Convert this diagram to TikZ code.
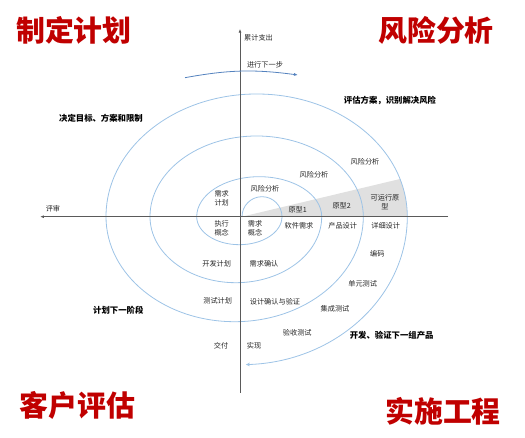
\documentclass[tikz,border=0pt]{standalone}
\usepackage{fontspec}
\newfontfamily\cjk{Noto Sans CJK SC}
\usetikzlibrary{arrows.meta}

\definecolor{spiralblue}{RGB}{157,195,230}
\definecolor{stepblue}{RGB}{84,130,190}
\definecolor{axisgray}{RGB}{90,90,90}
\definecolor{titlered}{RGB}{192,0,0}
\definecolor{wedgegray}{RGB}{224,224,224}

\tikzset{
  lbl/.style={font=\cjk\fontsize{7.2}{8.8}\selectfont, text=black!85, inner sep=0pt, align=center},
  phase/.style={font=\cjk\bfseries\fontsize{8.4}{10}\selectfont, inner sep=0pt},
  bigtitle/.style={font=\cjk\bfseries\fontsize{29}{32}\selectfont, text=titlered, inner sep=0pt},
  axisline/.style={draw=axisgray, line width=0.8bp},
  spiral/.style={draw=spiralblue, line width=0.8bp},
}

\begin{document}
\begin{tikzpicture}[x=1bp, y=1bp]
    \useasboundingbox (-240, -221.3) rectangle (285, 216.7);

    % 外圈上半椭圆: 圆心 (16.65, 0), 半轴 150.65 和 122.7
    \pgfmathsetmacro{\ra}{150.65}
    \pgfmathsetmacro{\rb}{122.7}
    \pgfmathsetmacro{\t}{17.9}% 阴影扇形的角度

    \coordinate (O) at (2, 0);
    \coordinate (W) at ({16.65 + \ra * cos(\t)}, {\rb * sin(\t)});

    % 原型区域
    \fill[wedgegray] (O) -- (W) arc[start angle=\t, end angle=0, x radius=\ra, y radius=\rb] -- cycle;

    % 螺旋线
    \draw[spiral, -{Stealth[length=4bp, width=3.5bp]}] (O)
        arc[start angle=180, end angle=0,    x radius=20,     y radius=20]
        arc[start angle=0,   end angle=-180, x radius=42.65,  y radius=28]
        arc[start angle=180, end angle=0,    x radius=62.5,   y radius=40]
        arc[start angle=0,   end angle=-180, x radius=85.85,  y radius=66]
        arc[start angle=180, end angle=0,    x radius=106.65, y radius=80.7]
        arc[start angle=0,   end angle=-180, x radius=128.65, y radius=105]
        arc[start angle=180, end angle=0,    x radius=\ra,    y radius=\rb]
        arc[start angle=0,   end angle=-88,  x radius=167.3,  y radius=148];

    % 坐标轴
    \coordinate (xr) at (208, 0);
    \coordinate (xl) at (-200, 0);
    \coordinate (yb) at (0, -176.3);
    \coordinate (yt) at (0, 188);
    \draw[axisline, -{Latex[length=4bp, width=3bp]}] (xr) -- (xl);
    \draw[axisline, -{Latex[length=4bp, width=3bp]}] (yb) -- (yt);
    \node[lbl, anchor=west] (cost) at (4, 179) {累计支出};
    \node[lbl] (review) at (-187, 7.7) {评审};

    % 进行下一步
    \coordinate (s1) at (-55, 139);
    \coordinate (s2) at (58, 141.7);
    \draw[stepblue, line width=0.8bp, -{Latex[length=4bp, width=3bp]}] (s1) to[bend left=9] (s2);
    \node[lbl] (next) at (25, 151.7) {进行下一步};

    % 各象限任务
    \node[lbl] (rp)   at (-18.3, 18.4) {需求\\计划};
    \node[lbl] (ra1)  at (25, 27.7)    {风险分析};
    \node[lbl] (ra2)  at (74, 41.7)    {风险分析};
    \node[lbl] (ra3)  at (125, 55)     {风险分析};
    \node[lbl] (p1)   at (57.7, 6.7)   {原型1};
    \node[lbl] (p2)   at (101.7, 10.7) {原型2};
    \node[lbl] (p3)   at (145, 14.4)   {可运行原\\型};
    \node[lbl] (ec)   at (-18.3, -11.6) {执行\\概念};
    \node[lbl] (rc)   at (15, -11.6)   {需求\\概念};
    \node[lbl] (sr)   at (59, -9)      {软件需求};
    \node[lbl] (pd)   at (102.7, -9)   {产品设计};
    \node[lbl] (dd)   at (145.7, -9)   {详细设计};
    \node[lbl] (code) at (137.3, -37.3) {编码};
    \node[lbl] (dp)   at (-23.3, -47.3) {开发计划};
    \node[lbl] (rv)   at (24, -47.3)   {需求确认};
    \node[lbl] (ut)   at (122.7, -66.6) {单元测试};
    \node[lbl] (tp)   at (-22.3, -84)  {测试计划};
    \node[lbl] (dv)   at (35, -85)     {设计确认与验证};
    \node[lbl] (it)   at (95, -92.3)   {集成测试};
    \node[lbl] (at)   at (57.3, -115.6) {验收测试};
    \node[lbl] (dl)   at (-19, -129)   {交付};
    \node[lbl] (im)   at (14, -129)    {实现};

    % 四个阶段
    \node[phase] (goal) at (-139, 98.4)  {决定目标、方案和限制};
    \node[phase] (eval) at (150, 116)    {评估方案，识别解决风险};
    \node[phase] (plan) at (-121.7, -93.3) {计划下一阶段};
    \node[phase] (dev)  at (151.7, -119) {开发、验证下一组产品};

    \node[bigtitle] (q2) at (-166, 186.7) {制定计划};
    \node[bigtitle] (q1) at (196, 186.7)  {风险分析};
    \node[bigtitle] (q3) at (-162.5, -188.3) {客户评估};
    \node[bigtitle] (q4) at (203, -195)   {实施工程};
\end{tikzpicture}
\end{document}
